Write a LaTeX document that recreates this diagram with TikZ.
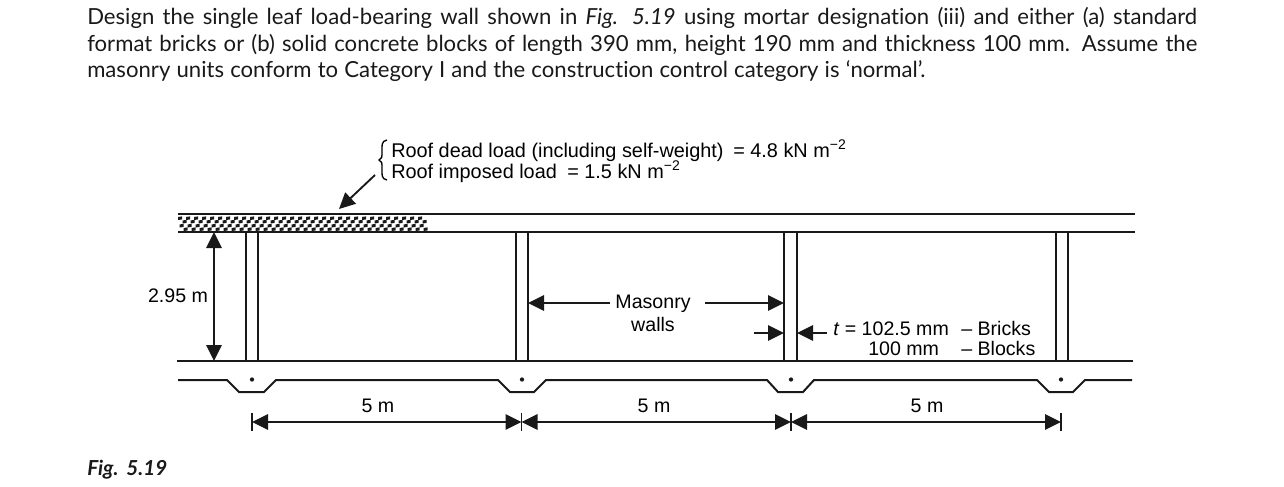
\documentclass[tikz,border=0pt]{standalone}
\usepackage{fontspec}
\setmainfont[Ligatures=NoCommon]{Lato}
\newfontfamily\figfont{Liberation Sans}
\usetikzlibrary{arrows.meta,decorations.pathreplacing}
\newcommand{\supm}{\smash{\raisebox{5.5pt}{\fontsize{10.5}{10.5}\selectfont −2}}}
\tikzset{
 x=0.75pt,y=-0.75pt,
 ln/.style={line width=1.5pt,black!90},
 thin ln/.style={line width=1.3pt,black!90},
 tip/.style={-{Triangle[length=12pt,width=11.5pt]},line width=1.4pt,black!90},
 bothtip/.style={{Triangle[length=12pt,width=11.5pt]}-{Triangle[length=12pt,width=11.5pt]},line width=1.4pt,black!90},
 lbl/.style={font=\figfont\fontsize{14.7}{15}\selectfont,inner sep=0pt,text=black},
 llbl/.style={lbl,anchor=base west},
 rooflbl/.style={llbl,font=\figfont\fontsize{14.9}{15}\selectfont},
 para/.style={font=\fontsize{16.6}{20}\selectfont,inner sep=0pt,anchor=base west,text=black!90},
}
\begin{document}
\begin{tikzpicture}
\useasboundingbox (0,0) rectangle (1284,486);
% text
\node[para] (t1) at (87,24.5) {\makebox[832.5pt][s]{Design the single leaf load-bearing wall shown in \textit{Fig. 5.19} using mortar designation (iii) and either (a) standard}};
\node[para] (t2) at (87,51) {\makebox[832.5pt][s]{format bricks or (b) solid concrete blocks of length 390 mm, height 190 mm and thickness 100 mm. Assume the}};
\node[para] (t3) at (87,77) {\makebox[628.5pt][s]{masonry units conform to Category I and the construction control category is ‘normal’.}};
\node[para,font=\itshape\bfseries\fontsize{15.5}{18}\selectfont] (figlab) at (87,475) {\makebox[60pt][s]{Fig. 5.19}};
% roof
\coordinate (rtl) at (178,214); \coordinate (rtr) at (1135,214);
\coordinate (rbl) at (178,232); \coordinate (rbr) at (1135,232);
\draw[ln] (rtl)--(rtr); \draw[ln] (rbl)--(rbr);
\foreach \y/\o in {217/0,220.5/4.5,224.5/1.5,228/5.5}{
 \foreach \i in {0,...,30}{
  \fill[black!90] ({178+\o+\i*8},\y) -- ++(4,-0.6) -- ++(0.2,3) -- ++(-4,0.6) -- cycle;
 }
}
% ground and walls
\coordinate (gl) at (177,361); \coordinate (gr) at (1133,361);
\draw[ln] (gl)--(gr);
\foreach \a/\b/\n in {246/258/a,516/528/b,784/797/c,1056/1068/d}{
 \coordinate (w\n1t) at (\a,232); \coordinate (w\n1b) at (\a,361);
 \coordinate (w\n2t) at (\b,232); \coordinate (w\n2b) at (\b,361);
 \draw[ln] (w\n1t)--(w\n1b); \draw[ln] (w\n2t)--(w\n2b);
}
% footing
\draw[ln] (178,380)--(227,380)--(239,392)--(264,392)--(276,380)
 --(498,380)--(510,392)--(534,392)--(546,380)
 --(767,380)--(778,392)--(803,392)--(814,380)
 --(1037,380)--(1049,392)--(1073,392)--(1085,380)--(1132,380);
\foreach \x in {252,522,791,1061}{\fill[black!90] (\x,379.5) circle (1.6pt);}
% dims
\foreach \x/\n in {252/p,521.5/q,791/r,1061/s}{
 \coordinate (\n) at (\x,422);
 \draw[thin ln] (\x,413)--(\x,431);
}
\draw[bothtip] (p)--(q); \draw[bothtip] (q)--(r); \draw[bothtip] (r)--(s);
\node[lbl] (d1) at (378,405.5) {5 m};
\node[lbl] (d2) at (654,405.5) {5 m};
\node[lbl] (d3) at (927,405.5) {5 m};
% height
\coordinate (ht) at (214,232); \coordinate (hb) at (214,361);
\node[lbl] (h) at (178,295.5) {2.95 m};
\draw[bothtip] (ht)--(hb);
% masonry
\node[lbl] (m1) at (653,304) {Masonry};
\node[lbl] (m2) at (653,324) {walls};
\coordinate (m1l) at (610,303); \coordinate (m1r) at (705,303);
\coordinate (wbr) at (528,303); \coordinate (wcl) at (784,303);
\draw[tip] (m1l)--(wbr); \draw[tip] (m1r)--(wcl);
% thickness
\coordinate (tl) at (754,333); \coordinate (tlh) at (784,333);
\coordinate (tr) at (827,333); \coordinate (trh) at (797,333);
\draw[tip] (tl)--(tlh); \draw[tip] (tr)--(trh);
\node[llbl] (tt) at (833,335.5) {\textit{t} = 102.5 mm};
\node[llbl] (tb) at (868,355) {100 mm};
\node[llbl] (br) at (961,335.5) {– Bricks};
\node[llbl] (bl) at (961,355) {– Blocks};
% load
\node[rooflbl] (r1) at (391,157) {Roof dead load (including self-weight)};
\node[rooflbl] (r2) at (391,178) {Roof imposed load};
\node[rooflbl] (r1v) at (733,157) {= 4.8 kN m\supm};
\node[rooflbl] (r2v) at (567,178) {= 1.5 kN m\supm};
\draw[line width=1pt] (387,140) .. controls (381,141) and (382,146) .. (382,152) .. controls (382,157) and (382,159) .. (379,160) .. controls (382,161) and (382,163) .. (382,168) .. controls (382,174) and (381,179) .. (387,180);
\coordinate (la) at (375,175); \coordinate (lb) at (339,209);
\draw[tip] (la)--(lb);
\end{tikzpicture}
\end{document}
